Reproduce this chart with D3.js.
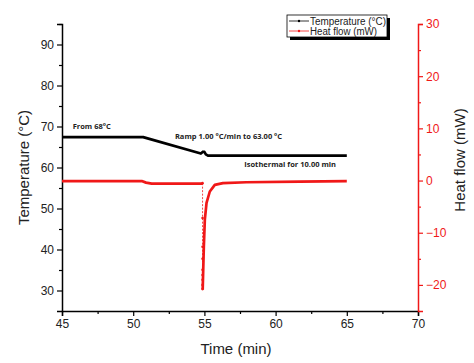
<!DOCTYPE html>
<html lang="en">
<head>
  <meta charset="UTF-8">
  <title>Temperature and heat flow vs time</title>
  <script src="https://d3js.org/d3.v7.min.js"></script>
  <style>
    body { margin: 0; background: #fff; }
    svg text { font-family: "Liberation Sans", Arial, sans-serif; }
  </style>
</head>
<body>
  <svg id="chart" width="474" height="363"></svg>
  <script>
    // temperature trace (min, °C)
    const tempTime  = [45, 50.7, 54.75, 54.9, 55.0, 55.1, 55.25, 65];
    const tempValue = [67.4, 67.4, 63.4, 63.85, 63.8, 63.2, 62.9, 62.9];

    // heat flow trace (min, mW) - baseline, then recovery after the drop
    const hfTime  = [45, 50.6, 50.9, 51.3, 52.5, 54.87, null, 54.88, 54.96, 55.03, 55.15, 55.38, 55.73, 56.3, 57.95, 61.7, 65];
    const hfValue = [-0.1, -0.1, -0.4, -0.6, -0.6, -0.6, null, -20.9, -12.7, -7.5, -4.3, -2.1, -0.84, -0.5, -0.33, -0.2, -0.1];

    // the sharp drop itself (sparse points)
    const dropTime  = [54.87, 54.87, 54.87, 54.87, 54.87, 54.87, 54.87, 54.87, 54.87];
    const dropValue = [-0.5, -7.2, -12.7, -15, -17.1, -18.1, -19, -20, -20.8];

    const notes = [
      { t: 45.75, v: 69.4, text: "From 68°C" },
      { t: 52.93, v: 67.0, text: "Ramp 1.00 °C/min to 63.00 °C" },
      { t: 57.8, v: 60.1, text: "Isothermal for 10.00 min" }
    ];

    const xTicks = [45, 50, 55, 60, 65, 70];
    const tempTicks = [30, 40, 50, 60, 70, 80, 90];
    const hfTicks = [-20, -10, 0, 10, 20, 30];

    const red = "#f01818";
    const svg = d3.select("#chart");
    const mLeft = 62, mRight = 418, mTop = 24, mBottom = 311;

    const x = d3.scaleLinear().domain([45, 70]).range([mLeft, mRight]);
    const yT = d3.scaleLinear().domain([25, 95]).range([mBottom, mTop]);
    const yH = d3.scaleLinear().domain([-25, 30]).range([mBottom, mTop]);

    // axes
    const xAxis = svg.append("g").attr("transform", `translate(0,${mBottom})`)
      .call(d3.axisBottom(x).tickValues(xTicks).tickSize(5).tickPadding(3).tickFormat(d3.format("d")));
    svg.append("g").attr("transform", `translate(0,${mBottom})`)
      .call(d3.axisBottom(x).tickValues(d3.range(47.5, 70, 5)).tickSize(3).tickFormat(""))
      .select(".domain").remove();

    const yAxis = svg.append("g").attr("transform", `translate(${mLeft},0)`)
      .call(d3.axisLeft(yT).tickValues(tempTicks).tickSize(5).tickPadding(3));
    svg.append("g").attr("transform", `translate(${mLeft},0)`)
      .call(d3.axisLeft(yT).tickValues(d3.range(35, 96, 10)).tickSize(3).tickFormat(""))
      .select(".domain").remove();

    const hAxis = svg.append("g").attr("transform", `translate(${mRight},0)`)
      .call(d3.axisRight(yH).tickValues(hfTicks).tickSize(5).tickPadding(3));
    const hMinor = svg.append("g").attr("transform", `translate(${mRight},0)`)
      .call(d3.axisRight(yH).tickValues(d3.range(-15, 30, 10)).tickSize(3).tickFormat(""));
    hMinor.select(".domain").remove();

    svg.selectAll(".domain").attr("stroke-width", 1.5).attr("stroke", "#000");
    svg.selectAll(".tick line").attr("stroke-width", 1.2).attr("stroke", "#000");
    svg.selectAll("g text").attr("font-size", 12).attr("fill", "#222");
    hAxis.selectAll(".domain, .tick line").attr("stroke", red);
    hMinor.selectAll(".tick line").attr("stroke", red);
    hAxis.selectAll("text").attr("fill", red);

    // axis titles
    svg.append("text").attr("x", (mLeft + mRight) / 2 - 4).attr("y", 354)
      .attr("text-anchor", "middle").attr("font-size", 15).attr("fill", "#222").text("Time (min)");
    svg.append("text").attr("transform", `translate(29,${(mTop + mBottom) / 2}) rotate(-90)`)
      .attr("text-anchor", "middle").attr("font-size", 15).attr("fill", "#222").text("Temperature (°C)");
    svg.append("text").attr("transform", `translate(465,160) rotate(-90)`)
      .attr("text-anchor", "middle").attr("font-size", 15).attr("fill", "#222").text("Heat flow (mW)");

    // heat flow
    const hfData = hfTime.map((t, i) => ({ t, v: hfValue[i] }));
    const hfLine = d3.line().defined(d => d.t !== null).x(d => x(d.t)).y(d => yH(d.v));
    svg.append("path").datum(hfData).attr("d", hfLine)
      .attr("fill", "none").attr("stroke", red).attr("stroke-width", 2.7).attr("stroke-linejoin", "round");

    const dropData = dropTime.map((t, i) => ({ t, v: dropValue[i] }));
    svg.append("path").datum(dropData).attr("d", hfLine)
      .attr("fill", "none").attr("stroke", red).attr("stroke-width", 0.8).attr("stroke-dasharray", "2,1.5");
    svg.selectAll(".drop").data(dropData).enter().append("circle")
      .attr("cx", d => x(d.t)).attr("cy", d => yH(d.v)).attr("r", 1.3).attr("fill", red);

    // temperature
    const tData = tempTime.map((t, i) => ({ t, v: tempValue[i] }));
    svg.append("path").datum(tData)
      .attr("d", d3.line().x(d => x(d.t)).y(d => yT(d.v)))
      .attr("fill", "none").attr("stroke", "#000").attr("stroke-width", 2.7).attr("stroke-linejoin", "round");

    // annotations
    svg.selectAll(".note").data(notes).enter().append("text")
      .attr("x", d => x(d.t)).attr("y", d => yT(d.v))
      .attr("font-size", 7.5).attr("font-weight", "bold").attr("fill", "#222")
      .style("font-family", "'Open Sans', sans-serif")
      .text(d => d.text);

    // legend
    const lg = svg.append("g");
    lg.append("rect").attr("x", 290).attr("y", 18).attr("width", 100).attr("height", 22).attr("fill", "#000");
    lg.append("rect").attr("x", 287).attr("y", 15).attr("width", 100).attr("height", 22)
      .attr("fill", "#fff").attr("stroke", "#000").attr("stroke-width", 0.8);
    const items = [{ label: "Temperature (°C)", color: "#000", w: 76 }, { label: "Heat flow (mW)", color: red, w: 67 }];
    items.forEach((it, i) => {
      const yy = 21 + i * 10;
      lg.append("line").attr("x1", 289).attr("x2", 309).attr("y1", yy).attr("y2", yy)
        .attr("stroke", it.color).attr("stroke-width", 0.8);
      lg.append("circle").attr("cx", 299).attr("cy", yy).attr("r", 1.2).attr("fill", it.color);
      lg.append("text").attr("x", 310).attr("y", yy + 3.5).attr("font-size", 10).attr("fill", "#222")
        .attr("textLength", it.w).attr("lengthAdjust", "spacingAndGlyphs").text(it.label);
    });
  </script>
</body>
</html>
